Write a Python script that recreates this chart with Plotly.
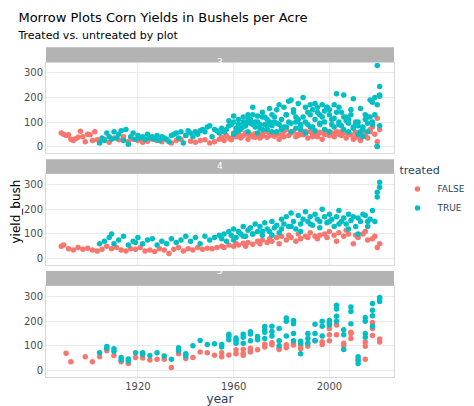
import plotly.graph_objects as go

# plot 3
p3_false_year = [1888, 1889, 1890, 1891, 1892, 1893, 1894, 1895, 1896, 1897, 1898, 1899, 1900, 1901, 1902, 1903,
                 1904, 1906, 1908, 1910, 1912, 1914, 1916, 1918, 1920, 1922, 1924, 1926, 1928, 1930, 1932, 1934,
                 1936, 1938, 1940, 1942, 1944, 1946, 1948, 1950, 1952, 1954, 1955, 1956, 1957, 1958, 1959, 1960,
                 1961, 1962, 1963, 1964, 1965, 1966, 1967, 1968, 1969, 1970, 1971, 1972, 1973, 1974, 1975, 1976,
                 1977, 1978, 1979, 1980, 1981, 1982, 1983, 1984, 1985, 1986, 1987, 1988, 1989, 1990, 1991, 1992,
                 1993, 1994, 1995, 1996, 1997, 1998, 1999, 2000, 2001, 2002, 2003, 2004, 2005, 2006, 2007, 2008,
                 2009, 2010, 2011, 2012, 2013, 2014, 2015, 2016, 2017, 2018, 2019, 2020, 2021,
                 1960, 1963, 1966, 1969, 1972, 1975, 1978, 1981, 1984, 1987, 1990, 1993, 1996, 1999, 2002, 2005,
                 2008, 2011, 2014, 2017, 2020]
p3_false_yield = [55, 50, 45, 48, 30, 25, 32, 38, 62, 40, 20, 50, 48, 25, 60, 28,
                  22, 30, 18, 35, 28, 40, 22, 30, 25, 18, 22, 30, 25, 20, 28, 15,
                  25, 30, 45, 22, 18, 25, 28, 15, 20, 30, 38, 25, 45, 35, 28, 55,
                  40, 50, 35, 45, 55, 30, 48, 40, 52, 45, 35, 50, 60, 38, 45, 55,
                  42, 58, 30, 48, 62, 70, 45, 55, 60, 40, 50, 65, 48, 55, 35, 60,
                  45, 52, 40, 58, 30, 50, 62, 45, 55, 40, 60, 50, 45, 55, 35, 52,
                  48, 30, 58, 40, 25, 55, 45, 35, 60, 80, 50, 20, 70,
                  45, 40, 50, 38, 42, 55, 50, 40, 58, 45, 62, 40, 55, 50, 45, 60,
                  52, 38, 48, 70, 115]
p3_true_year = [1904, 1905, 1906, 1907, 1908, 1909, 1910, 1911, 1912, 1913, 1914, 1915, 1916, 1917, 1918, 1919,
                1920, 1921, 1922, 1923, 1924, 1925, 1926, 1927, 1928, 1929, 1930, 1931, 1932, 1933, 1934, 1935,
                1936, 1937, 1938, 1939, 1940, 1941, 1942, 1943, 1944, 1945, 1946, 1947, 1948, 1949, 1950, 1951,
                1952, 1953, 1954, 1955, 1956, 1957, 1958, 1959, 1960, 1961, 1962, 1963, 1964, 1965, 1966, 1967,
                1968, 1969, 1970, 1971, 1972, 1973, 1974, 1975, 1976, 1977, 1978, 1979, 1980, 1981, 1982, 1983,
                1984, 1985, 1986, 1987, 1988, 1989, 1990, 1991, 1992, 1993, 1994, 1995, 1996, 1997, 1998, 1999,
                2000, 2001, 2002, 2003, 2004, 2005, 2006, 2007, 2008, 2009, 2010, 2011, 2012, 2013, 2014, 2015,
                2016, 2017, 2018, 2019, 2020, 2021,
                1956, 1958, 1960, 1961, 1962, 1963, 1964, 1965, 1966, 1967, 1968, 1969, 1970, 1971, 1972, 1973,
                1974, 1975, 1976, 1977, 1978, 1979, 1980, 1981, 1982, 1983, 1984, 1985, 1986, 1987, 1988, 1989,
                1990, 1991, 1992, 1993, 1994, 1995, 1996, 1997, 1998, 1999, 2000, 2001, 2002, 2003, 2004, 2005,
                2006, 2007, 2008, 2009, 2010, 2011, 2012, 2013, 2014, 2015, 2016, 2017, 2018, 2019, 2020, 2021,
                1960, 1962, 1964, 1966, 1968, 1970, 1972, 1974, 1976, 1978, 1980, 1982, 1984, 1986, 1988, 1990,
                1992, 1994, 1996, 1998, 2000, 2002, 2004, 2006, 2008, 2010, 2012, 2014, 2016, 2018, 2020, 2021,
                2020, 2021]
p3_true_yield = [15, 35, 25, 55, 40, 30, 60, 35, 50, 65, 25, 70, 10, 40, 55, 30,
                 45, 35, 40, 30, 50, 35, 40, 30, 45, 25, 40, 35, 30, 20, 45, 50,
                 55, 35, 60, 15, 45, 65, 55, 40, 60, 50, 65, 70, 60, 80, 85, 40,
                 70, 65, 55, 75, 60, 70, 105, 90, 125, 60, 110, 80, 120, 95, 130, 110,
                 160, 100, 125, 90, 140, 120, 110, 155, 130, 100, 150, 170, 75, 160, 130, 185,
                 190, 150, 120, 175, 90, 200, 160, 140, 170, 150, 175, 160, 130, 170, 145, 160,
                 150, 110, 170, 215, 160, 140, 210, 120, 110, 150, 195, 90, 100, 155, 80, 130,
                 120, 190, 180, 200, 330, 245,
                 60, 85, 100, 75, 90, 70, 100, 85, 110, 95, 130, 80, 100, 75, 120, 90,
                 70, 100, 85, 120, 60, 90, 110, 80, 130, 100, 95, 140, 75, 110, 85, 120,
                 100, 90, 130, 80, 110, 140, 95, 120, 100, 160, 130, 90, 115, 140, 100, 85,
                 120, 105, 95, 130, 75, 100, 85, 60, 70, 110, 95, 120, 100, 130, 0, 210,
                 50, 65, 80, 60, 90, 55, 70, 85, 60, 95, 70, 80, 60, 100, 70, 55,
                 80, 65, 90, 70, 60, 80, 90, 70, 60, 80, 50, 40, 60, 90, 0, 205,
                 170, 85]

# plot 4
p4_false_year = [1888, 1889, 1891, 1893, 1895, 1897, 1899, 1901, 1903, 1905, 1907, 1909, 1911, 1913, 1915, 1917,
                 1919, 1921, 1923, 1925, 1927, 1929, 1931, 1933, 1935, 1937, 1939, 1941, 1943, 1945, 1947, 1949,
                 1951, 1953, 1955, 1956, 1958, 1960, 1961, 1962, 1964, 1965, 1966, 1968, 1970, 1971, 1972, 1974,
                 1975, 1976, 1978, 1979, 1980, 1982, 1983, 1984, 1986, 1987, 1988, 1990, 1991, 1992, 1994, 1995,
                 1996, 1998, 1999, 2000, 2002, 2003, 2004, 2006, 2007, 2008, 2010, 2011, 2012, 2014, 2015, 2016,
                 2018, 2019, 2020, 2021]
p4_false_yield = [50, 55, 40, 35, 45, 38, 42, 35, 30, 38, 50, 40, 45, 35, 30, 40,
                  38, 45, 30, 35, 28, 40, 35, 20, 38, 45, 30, 40, 35, 45, 38, 42,
                  40, 45, 50, 45, 55, 50, 60, 55, 62, 50, 65, 58, 70, 60, 75, 65,
                  80, 70, 85, 60, 90, 75, 95, 85, 70, 100, 80, 90, 85, 105, 90, 80,
                  95, 100, 85, 110, 95, 70, 105, 90, 115, 100, 60, 95, 85, 100, 110, 75,
                  80, 90, 45, 60]
p4_true_year = [1904, 1906, 1908, 1909, 1910, 1912, 1914, 1916, 1918, 1919, 1920, 1922, 1924, 1926, 1928, 1930,
                1932, 1934, 1936, 1938, 1940, 1942, 1944, 1946, 1948, 1950, 1952, 1954, 1955, 1956, 1957, 1958,
                1959, 1960, 1961, 1962, 1963, 1964, 1965, 1966, 1967, 1968, 1969, 1970, 1971, 1972, 1973, 1974,
                1975, 1976, 1977, 1978, 1979, 1980, 1981, 1982, 1983, 1984, 1985, 1986, 1987, 1988, 1989, 1990,
                1991, 1992, 1993, 1994, 1995, 1996, 1997, 1998, 1999, 2000, 2001, 2002, 2003, 2004, 2005, 2006,
                2007, 2008, 2009, 2010, 2011, 2012, 2013, 2014, 2015, 2016, 2017, 2018, 2019, 2020, 2021,
                1960, 1964, 1968, 1972, 1976, 1980, 1984, 1988, 1992, 1996, 2000, 2004, 2008, 2012, 2016, 2020,
                2021]
p4_true_yield = [60, 70, 85, 100, 60, 75, 90, 55, 70, 65, 85, 60, 75, 80, 55, 70,
                 60, 80, 65, 75, 90, 70, 85, 60, 90, 75, 85, 95, 80, 100, 70, 110,
                 95, 120, 85, 110, 100, 130, 90, 115, 125, 100, 140, 110, 130, 95, 145, 120,
                 110, 150, 125, 135, 105, 160, 140, 170, 130, 185, 150, 120, 175, 140, 160, 190,
                 150, 170, 135, 180, 160, 150, 200, 170, 145, 180, 160, 130, 170, 195, 150, 165,
                 140, 180, 155, 170, 130, 165, 150, 180, 175, 130, 160, 195, 150, 270, 310,
                 75, 90, 100, 110, 95, 120, 130, 110, 140, 125, 150, 140, 120, 100, 150, 250,
                 290]

# plot 5
p5_false_year = [1890, 1892, 1898, 1901, 1904, 1907, 1910, 1913, 1916, 1919, 1922, 1925, 1928, 1931, 1934, 1937,
                 1940, 1943, 1946, 1949, 1952, 1955, 1955, 1958, 1961, 1961, 1964, 1964, 1964, 1967, 1967, 1967,
                 1970, 1973, 1973, 1976, 1976, 1979, 1979, 1982, 1982, 1985, 1985, 1988, 1988, 1991, 1994, 1997,
                 1997, 2000, 2000, 2000, 2003, 2003, 2006, 2006, 2009, 2009, 2009, 2012, 2015, 2015, 2015, 2018,
                 2018, 2018, 2021, 2021]
p5_false_yield = [70, 35, 55, 35, 55, 80, 60, 35, 28, 52, 50, 42, 45, 45, 12, 68,
                  48, 52, 75, 72, 62, 55, 72, 63, 68, 84, 62, 70, 86, 75, 82, 90,
                  84, 95, 106, 104, 112, 85, 90, 92, 104, 103, 110, 88, 100, 98, 120, 105,
                  116, 120, 145, 170, 145, 185, 100, 110, 130, 150, 155, 45, 98, 115, 45, 142,
                  170, 195, 115, 128]
p5_true_year = [1904, 1907, 1907, 1910, 1910, 1913, 1913, 1916, 1916, 1919, 1922, 1922, 1925, 1928, 1931, 1934,
                1937, 1937, 1940, 1940, 1943, 1946, 1949, 1952, 1955, 1955, 1958, 1958, 1958, 1961, 1961, 1961,
                1964, 1964, 1964, 1967, 1967, 1967, 1970, 1970, 1973, 1973, 1973, 1973, 1976, 1976, 1976, 1979,
                1979, 1979, 1982, 1982, 1982, 1985, 1985, 1985, 1985, 1988, 1988, 1988, 1991, 1991, 1991, 1994,
                1994, 1994, 1997, 1997, 1997, 2000, 2000, 2000, 2003, 2003, 2003, 2003, 2006, 2006, 2006, 2009,
                2009, 2009, 2012, 2012, 2012, 2015, 2015, 2015, 2015, 2018, 2018, 2018, 2018, 2021, 2021, 2021]
p5_true_yield = [72, 90, 97, 78, 88, 42, 52, 38, 46, 72, 65, 72, 60, 72, 58, 45,
                 80, 92, 58, 68, 100, 122, 105, 108, 95, 105, 125, 138, 147, 110, 122, 132,
                 110, 135, 147, 120, 148, 157, 125, 138, 130, 155, 165, 178, 140, 158, 180, 100,
                 120, 170, 140, 200, 213, 120, 150, 190, 203, 68, 110, 118, 110, 130, 150, 120,
                 150, 188, 140, 180, 200, 185, 195, 203, 200, 220, 250, 265, 85, 145, 165, 190,
                 240, 258, 28, 40, 55, 135, 150, 200, 215, 180, 222, 245, 272, 280, 290, 296]

red = "#F8766D"
teal = "#00BFC4"

panels = [
    (p3_false_year, p3_false_yield, p3_true_year, p3_true_yield, "3", [0.676, 0.950]),
    (p4_false_year, p4_false_yield, p4_true_year, p4_true_yield, "4", [0.338, 0.612]),
    (p5_false_year, p5_false_yield, p5_true_year, p5_true_yield, "5", [0.0, 0.274]),
]

fig = go.Figure()
for i, (fy, fv, ty, tv, name, dom) in enumerate(panels):
    n = "" if i == 0 else str(i + 1)
    fig.add_trace(go.Scatter(x=fy, y=fv, mode="markers", name="FALSE", legendgroup="FALSE",
                             showlegend=(i == 0), marker=dict(color=red, size=5.5),
                             xaxis="x" + n, yaxis="y" + n))
    fig.add_trace(go.Scatter(x=ty, y=tv, mode="markers", name="TRUE", legendgroup="TRUE",
                             showlegend=(i == 0), marker=dict(color=teal, size=5.5),
                             xaxis="x" + n, yaxis="y" + n))
    axis_common = dict(showline=True, linecolor="#d9d9d9", mirror=True, gridcolor="#ebebeb",
                       zeroline=False, tickfont=dict(size=10, color="#4d4d4d"))
    fig.update_layout(**{
        "xaxis" + n: dict(range=[1881.6, 2027], domain=[0, 1], tickvals=[1920, 1960, 2000],
                          showticklabels=(i == 2), anchor="y" + n, **axis_common),
        "yaxis" + n: dict(range=[-27, 342], domain=dom, tickvals=[0, 100, 200, 300],
                          anchor="x" + n, **axis_common),
    })
    fig.add_shape(type="rect", xref="paper", yref="paper", x0=0, x1=1, y0=dom[1] + 0.002,
                  y1=dom[1] + 0.046, fillcolor="#b3b3b3", line=dict(width=0))
    fig.add_annotation(text=name, xref="paper", yref="paper", x=0.5, y=dom[1] + 0.024,
                       showarrow=False, font=dict(color="white", size=9))

fig.add_annotation(text="yield_bush", xref="paper", yref="paper", x=0, xanchor="right", xshift=-22,
                   y=0.5, textangle=-90, showarrow=False, font=dict(size=12, color="black"))
fig.update_layout(
    width=474, height=406,
    margin=dict(l=38, r=72, t=38, b=30),
    plot_bgcolor="white", paper_bgcolor="white",
    font=dict(family="DejaVu Sans"),
    title=dict(text="Morrow Plots Corn Yields in Bushels per Acre<br><span style='font-size:11px'>Treated vs. untreated by plot</span>",
               x=0.022, xanchor="left", y=0.965, yanchor="top", font=dict(size=13, color="black")),
    legend=dict(title=dict(text="treated", font=dict(size=11)), x=1.01, y=0.56, yanchor="middle",
                font=dict(size=9), tracegroupgap=0),
    xaxis3_title=dict(text="year", font=dict(size=12), standoff=2),
)

fig.write_html("out.html")
